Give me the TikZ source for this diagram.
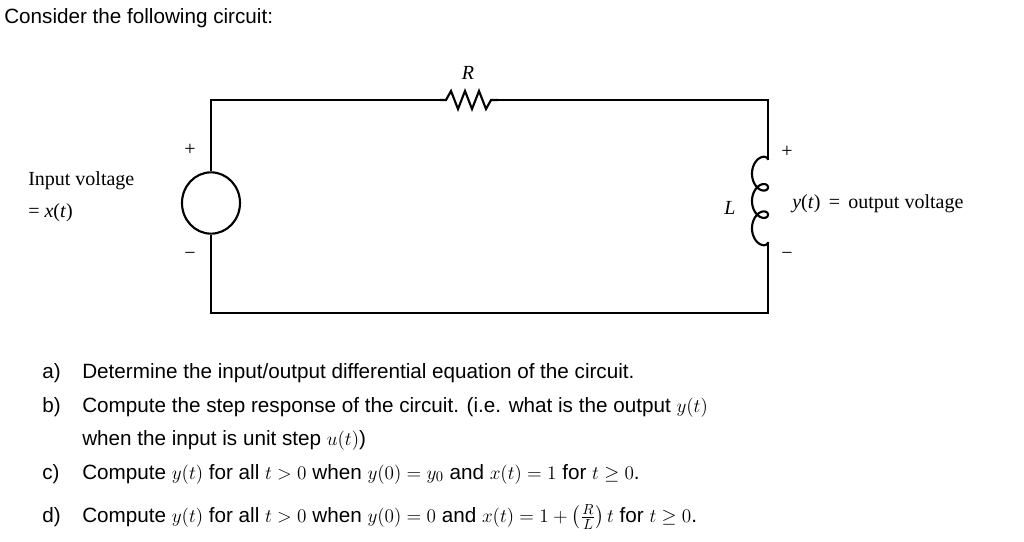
\documentclass[tikz,border=0pt]{standalone}
\usepackage{fontspec}
\usepackage{amsmath}
\usetikzlibrary{shapes.geometric}
\setmainfont{Liberation Sans}
\newfontfamily\tms{Liberation Serif}
\begin{document}
\begin{tikzpicture}[x=0.75pt,y=-0.75pt,
  wire/.style={line width=1.6pt,line join=miter},
  ser/.style={font=\tms\fontsize{15}{16}\selectfont,inner sep=0pt},
  itm/.style={anchor=west,font=\fontsize{15.5}{17}\selectfont,inner sep=0pt},
  lbl/.style={anchor=west,font=\fontsize{15.5}{17}\selectfont,inner sep=0pt}]
\useasboundingbox (0,0) rectangle (1024,542);
\node[anchor=west,font=\fontsize{15.5}{17}\selectfont,inner sep=0pt] (title) at (4,18) {Consider the following circuit:};
% nodes
\coordinate (tl) at (211,100); \coordinate (tr) at (768,100);
\coordinate (bl) at (211,313); \coordinate (br) at (768,313);
\coordinate (ra) at (440,100); \coordinate (rb) at (498,100);
\coordinate (la) at (768,160); \coordinate (lb) at (768,242);
\node[draw,ellipse,line width=1.6pt,inner sep=0pt,minimum width=43.5pt,minimum height=46pt] (src) at (211,203) {};
% wires
\draw[wire] (src.north) -- (tl) -- (ra);
\draw[wire] (ra) -- ++(6,0) -- ++(5,-9) -- ++(7,18) -- ++(7,-18) -- ++(7,18) -- ++(7,-18) -- ++(7,18) -- ++(5,-9) -- (rb);
\draw[wire] (rb) -- (tr) -- (la);
\draw[wire] plot[domain=0:1080,samples=200,variable=\t] ({760+8*cos(\t)},{160+0.0759*\t-9*sin(\t)});
\draw[wire] (lb) -- (br) -- (bl) -- (src.south);
% labels
\node[ser] (R) at (468,73) {\textit{R}};
\node[ser] (Lb) at (730,208) {\textit{L}};
\node[ser] (sp) at (190,150) {+};
\node[ser] (sm) at (190,256) {\textminus};
\node[ser] (lp) at (787,152) {+};
\node[ser] (lm) at (787,256) {\textminus};
\node[ser,anchor=west] (in1) at (28,181) {Input voltage};
\node[ser,anchor=west] (in2) at (28,213) {= \textit{x}(\textit{t})};
\node[ser,anchor=west] (out) at (792,204) {\textit{y}(\textit{t}) \,=\, output voltage};
% questions
\node[itm] (a) at (42,373) {a)};
\node[lbl] (at) at (82,373) {Determine the input/output differential equation of the circuit.};
\node[itm] (b) at (42,407) {b)};
\node[lbl] (bt) at (82,407) {Compute the step response of the circuit. (i.e. what is the output $y(t)$};
\node[lbl] (bt2) at (82,440) {when the input is unit step $u(t)$)};
\node[itm] (c) at (42,474) {c)};
\node[lbl] (ct) at (82,474) {Compute $y(t)$ for all $t>0$ when $y(0)=y_0$ and $x(t)=1$ for $t\geq 0$.};
\node[itm] (d) at (42,517) {d)};
\node[lbl] (dt) at (82,517) {Compute $y(t)$ for all $t>0$ when $y(0)=0$ and $x(t)=1+\left(\frac{R}{L}\right)t$ for $t\geq 0$.};
\end{tikzpicture}
\end{document}
